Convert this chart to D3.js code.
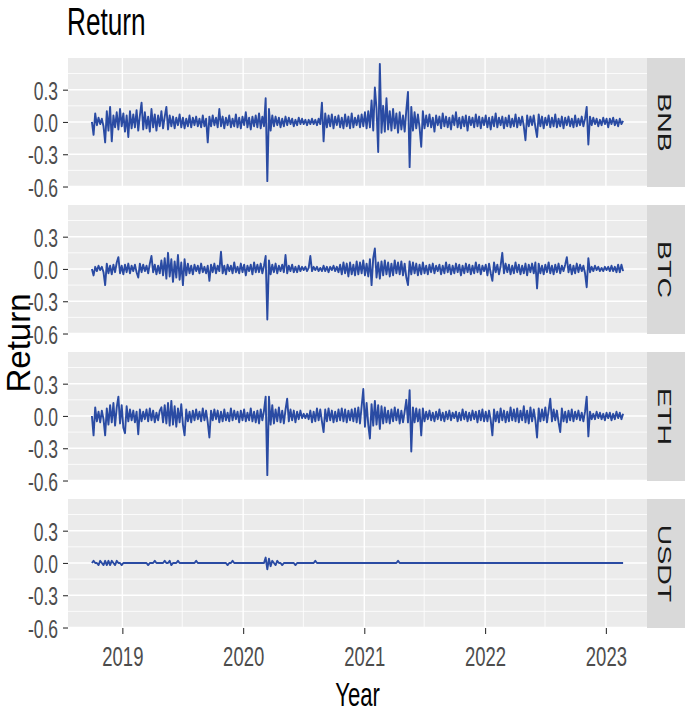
<!DOCTYPE html>
<html>
<head>
<meta charset="utf-8">
<script src="https://cdn.jsdelivr.net/npm/d3@7"></script>
<style>
body { margin: 0; background: #fff; }
#viz { width: 685px; height: 715px; }
text { font-family: "Liberation Sans", Arial, sans-serif; }
</style>
</head>
<body>
<div id="viz"></div>
<script>
var startDate = new Date(2018, 9, 1);
var stepDays = 5;
var coins = ['BNB', 'BTC', 'ETH', 'USDT'];
var yearTicks = [2019, 2020, 2021, 2022, 2023];
var halfYears = [2019, 2020, 2021, 2022];
var returnTicks = [-0.6, -0.3, 0.0, 0.3];
var returnMinor = [-0.45, -0.15, 0.15, 0.45];

// returns in percent, one reading every 5 days
var bnbPct = [
    0, -12, 8, -3, 4, -2, 3, -4, -19, 10,
    -8, 14, -18, 6, -5, 9, -7, 12, -4, 8,
    -9, 6, -14, 10, -6, 7, -5, 11, -8, 6,
    18, -7, 9, -6, 5, -9, 12, -5, 7, -8,
    6, -4, 10, -6, 5, 14, -7, 6, -4, 5,
    -6, 4, -3, 7, -5, 4, -6, 3, -4, 6,
    -5, 4, -3, 5, -4, 3, -5, 6, -4, 3,
    -19, 5, -4, 6, -3, 4, -5, 12, -4, 5,
    -6, 4, -3, 6, -5, 3, -4, 7, -5, 4,
    -6, 5, -3, 9, -5, 4, -7, 5, -4, 6,
    -5, 8, -6, 5, -4, 22, -55, 12, -8, 6,
    -4, 5, -3, 4, -5, 3, -4, 5, -3, 4,
    -2, 3, -4, 2, -3, 4, -2, 3, -2, 2,
    -3, 2, -2, 3, -2, 2, -3, 3, -2, 18,
    -18, 8, -5, 6, -4, 7, -6, 5, -3, 6,
    -5, 4, -6, 7, -4, 5, -6, 8, -5, 4,
    -3, 6, -5, 7, -4, 9, -6, 10, -5, 20,
    -8, 32, 12, -28, 54, -10, 15, -9, 22, -7,
    10, -8, 12, -6, 8, -10, 9, -7, 6, -9,
    11, 28, -42, 14, -8, 9, -6, 7, -5, -23,
    10, -6, 6, -4, 7, -5, 4, -9, 6, -3,
    5, -6, 8, -4, 5, -5, 4, -7, 6, -3,
    9, -5, 4, -6, 5, -4, 6, -8, 5, -3,
    4, -5, 7, -4, 5, -6, 4, -3, 6, -5,
    4, -7, 5, -4, 8, -5, 4, -3, 5, -6,
    4, -4, 6, -5, 3, -4, 7, -5, 4, -3,
    5, -4, -17, 6, -4, 5, -3, 6, -5, -14,
    7, -4, 5, -6, 4, -3, 6, -5, 4, -4,
    7, -5, 3, -4, 5, -6, 4, -3, 5, -4,
    3, -5, 6, -4, 3, -3, 5, -4, 3, 14,
    -21, 5, -3, 4, -2, 3, -4, 2, -3, 4,
    -2, 3, -5, 3, -2, 4, -3, 2, -4, 3,
    -2, 1
];
var btcPct = [
    0, -6, 2, -2, 3, -1, 2, -3, -15, 5,
    -4, 3, -5, 4, -3, 6, 11, -4, 3, -5,
    4, -3, 5, -4, 3, -2, 4, -3, -8, 5,
    -3, 4, -2, 3, -4, 5, 12, -3, 4, -5,
    3, -4, 8, -6, 10, -9, 15, -7, 9, -12,
    7, -8, 13, -10, 6, -15, 9, -6, 5, -4,
    3, -5, 4, -2, 3, -4, 5, -3, 2, -4,
    3, -11, 4, -3, 5, -4, 3, -2, 16, -4,
    3, -5, 4, -2, 3, -4, 6, -3, 2, -4,
    5, -3, 4, -6, 3, -2, 4, -5, 6, -3,
    4, -3, 5, -4, 3, 12, -47, 8, -5, 4,
    -3, 5, -4, 3, -2, 4, -3, 13, -4, 3,
    -2, 4, -3, 2, -3, 3, -2, 2, -1, 2,
    -2, 1, 12, -2, 2, -1, 2, -2, 1, -2,
    3, -2, 2, -3, 2, -1, 3, -2, 2, -3,
    4, -5, 6, -4, 5, -7, 6, -5, 4, -6,
    7, -5, 6, -4, 8, -6, 5, -7, 9, -15,
    10, 19, -8, 6, -9, 7, -6, 8, -5, 6,
    -7, 5, -6, 8, -4, 6, -5, 7, -6, 5,
    -8, -15, 7, -5, 6, -4, 5, -6, 4, -5,
    6, -4, 3, -5, 4, -3, 5, -4, 3, -2,
    4, -5, 3, -4, 6, -3, 4, -5, 3, -4,
    5, -3, 4, -6, 3, -4, 5, -3, 4, -5,
    3, -4, 6, -3, 4, -5, 3, -2, 4, -6,
    5, -4, -11, 6, -3, 4, -5, 3, 15, -4,
    5, -3, 4, -5, 3, -4, 6, -3, 4, -5,
    3, -4, 5, -6, 4, -3, 5, -4, 6, -18,
    5, -4, 3, -5, 4, -3, 6, -4, 3, -5,
    4, -3, 5, -4, 3, -2, 4, 11, -3, 4,
    -5, 3, -4, 5, -3, 4, -2, 3, -4, -17,
    10, -3, 2, -2, 3, -1, 2, -2, 1, -2,
    2, -1, 2, -2, 3, -2, 2, -3, 4, -3,
    4, -2
];
var ethPct = [
    0, -18, 8, -5, 4, -6, 5, -3, -18, 7,
    -8, 10, -6, 12, -9, 8, 18, -7, 10, -11,
    -16, 9, -5, 6, -4, 5, -6, 4, -17, 6,
    -5, 4, -3, 6, -5, 7, -4, 5, -6, 3,
    -4, 5, 8, -6, 10, -7, 12, -9, 14, -8,
    9, -10, 7, -6, 11, -8, -18, 6, -5, 4,
    -6, 5, -4, 6, -3, 4, -5, 7, -4, 5,
    -6, -20, 5, -4, 6, -3, 5, -6, 4, -5,
    6, -4, 3, -5, 7, -4, 5, -3, 4, -6,
    5, -4, 6, -5, 3, -4, 7, -5, 4, -6,
    5, -7, 6, -4, 5, 18, -55, 18, -8, 10,
    -7, 6, -5, 8, -6, 5, -7, 6, 16, -5,
    6, -4, 5, -6, 4, -3, 5, -2, 2, -2,
    2, -3, 5, -6, 4, -5, 7, -4, 6, -5,
    -15, 6, -5, 7, -4, 5, -6, 4, -5, 6,
    -4, 7, -5, 6, -6, 5, -4, 6, -5, 7,
    -6, 8, -7, 9, 25, -10, 12, -8, -21, 11,
    -9, 14, -8, 10, -12, 9, -7, 8, -6, 5,
    -7, 6, -5, 8, -4, 6, -7, 5, -6, 4,
    15, -6, 24, -33, 8, -6, 7, -5, 6, -18,
    7, -5, 4, -3, 5, -4, 3, -5, 4, -3,
    6, -4, 3, -5, 4, -3, 5, -4, 3, -2,
    4, -5, 3, -4, 6, -3, 4, -5, 3, -4,
    5, -3, 4, -6, 5, -4, 6, -5, 4, -5,
    5, -4, -18, 6, -5, 4, -6, 7, -4, 5,
    -6, 4, -5, 8, -4, 6, -5, 7, -6, 5,
    -4, 9, -6, 5, -7, 8, -5, 6, -4, -20,
    7, -5, 6, -4, 8, -6, 5, 16, -5, 6,
    -4, 5, -6, -15, 7, -5, 4, -6, 5, -4,
    6, -5, 4, -3, 5, -4, 3, -5, 4, 18,
    -19, 4, -3, 2, -3, 4, -2, 3, -3, 2,
    -4, 3, -2, 3, -4, 2, -3, 4, -2, 3,
    -3, 2
];
var usdtPct = [
    0, 2, 0, 0, -2, 2, 0, -2, 2, -2,
    2, -2, 2, 0, -2, 2, 0, 0, -2, 0,
    0, 0, 0, 0, 0, 0, 0, 0, 0, 0,
    0, 0, 0, 0, -2, 0, 0, 0, 2, 0,
    0, 0, 0, 0, 2, 0, 0, 2, -2, 0,
    0, 0, 2, 0, 0, 0, 0, 0, 0, 0,
    0, 0, 0, 2, 0, 0, 0, 0, 0, 0,
    0, 0, 0, 0, 0, 0, 0, 0, 0, 0,
    0, 0, -2, 0, 0, 2, 0, 0, 0, 0,
    0, 0, 0, 0, 0, 0, 0, 0, 0, 0,
    0, 0, 0, 0, 0, 5, -6, 4, -3, 2,
    0, -2, 2, 0, 0, -2, 0, 0, 0, 0,
    0, 0, 0, -2, 0, 0, 0, 0, 0, 0,
    0, 0, 0, 0, 0, 2, 0, 0, 0, 0,
    0, 0, 0, 0, 0, 0, 0, 0, 0, 0,
    0, 0, 0, 0, 0, 0, 0, 0, 0, 0,
    0, 0, 0, 0, 0, 0, 0, 0, 0, 0,
    0, 0, 0, 0, 0, 0, 0, 0, 0, 0,
    0, 0, 0, 0, 0, 2, 0, 0, 0, 0,
    0, 0, 0, 0, 0, 0, 0, 0, 0, 0,
    0, 0, 0, 0, 0, 0, 0, 0, 0, 0,
    0, 0, 0, 0, 0, 0, 0, 0, 0, 0,
    0, 0, 0, 0, 0, 0, 0, 0, 0, 0,
    0, 0, 0, 0, 0, 0, 0, 0, 0, 0,
    0, 0, 0, 0, 0, 0, 0, 0, 0, 0,
    0, 0, 0, 0, 0, 0, 0, 0, 0, 0,
    0, 0, 0, 0, 0, 0, 0, 0, 0, 0,
    0, 0, 0, 0, 0, 0, 0, 0, 0, 0,
    0, 0, 0, 0, 0, 0, 0, 0, 0, 0,
    0, 0, 0, 0, 0, 0, 0, 0, 0, 0,
    0, 0, 0, 0, 0, 0, 0, 0, 0, 0,
    0, 0, 0, 0, 0, 0, 0, 0, 0, 0,
    0, 0
];

var width = 685, height = 715;
var panelLeft = 68, panelRight = 647, stripRight = 685;
var panelTop = 58, panelH = 129, panelStep = 147;
// the picture is squeezed sideways, so most text is too
var squeeze = 0.66;

var percents = [bnbPct, btcPct, ethPct, usdtPct];
var series = coins.map(function (c, k) {
    return percents[k].map(function (v, i) {
        return { date: d3.timeDay.offset(startDate, i * stepDays), value: v / 100 };
    });
});
var allPoints = d3.merge(series);

var dateExtent = d3.extent(allPoints, function (d) { return d.date; });
var datePad = (dateExtent[1] - dateExtent[0]) * 0.045;
var xScale = d3.scaleTime()
    .domain([new Date(+dateExtent[0] - datePad), new Date(+dateExtent[1] + datePad)])
    .range([panelLeft, panelRight]);

var valExtent = d3.extent(allPoints, function (d) { return d.value; });
var valPad = (valExtent[1] - valExtent[0]) * 0.05;

var svg = d3.select('#viz')
    .append('svg')
    .attr('width', width)
    .attr('height', height);

function addText(x, y, str, size, opts) {
    opts = opts || {};
    var sx = opts.squeeze === undefined ? squeeze : opts.squeeze;
    var t = 'translate(' + x + ',' + y + ') scale(' + sx + ',1)';
    if (opts.rotate) t += ' rotate(' + opts.rotate + ')';
    return svg.append('text')
        .attr('transform', t)
        .attr('text-anchor', opts.anchor || 'start')
        .attr('dy', opts.dy || 0)
        .attr('font-size', size)
        .attr('fill', opts.fill || '#000')
        .text(str);
}

var line = d3.line()
    .x(function (d) { return xScale(d.date); });

coins.forEach(function (coin, k) {
    var top = panelTop + k * panelStep;
    var yScale = d3.scaleLinear()
        .domain([valExtent[0] - valPad, valExtent[1] + valPad])
        .range([top + panelH, top]);

    svg.append('rect')
        .attr('x', panelLeft).attr('y', top)
        .attr('width', panelRight - panelLeft).attr('height', panelH)
        .attr('fill', '#ebebeb');

    var grid = svg.append('g').attr('stroke', '#fff');
    grid.selectAll('line.hmin').data(returnMinor).enter().append('line')
        .attr('x1', panelLeft).attr('x2', panelRight)
        .attr('y1', function (d) { return yScale(d); })
        .attr('y2', function (d) { return yScale(d); })
        .attr('stroke-width', 0.8);
    grid.selectAll('line.vmin').data(halfYears).enter().append('line')
        .attr('x1', function (d) { return xScale(new Date(d, 6, 1)); })
        .attr('x2', function (d) { return xScale(new Date(d, 6, 1)); })
        .attr('y1', top).attr('y2', top + panelH)
        .attr('stroke-width', 0.8);
    grid.selectAll('line.hmaj').data(returnTicks).enter().append('line')
        .attr('x1', panelLeft).attr('x2', panelRight)
        .attr('y1', function (d) { return yScale(d); })
        .attr('y2', function (d) { return yScale(d); })
        .attr('stroke-width', 1.4);
    grid.selectAll('line.vmaj').data(yearTicks).enter().append('line')
        .attr('x1', function (d) { return xScale(new Date(d, 0, 1)); })
        .attr('x2', function (d) { return xScale(new Date(d, 0, 1)); })
        .attr('y1', top).attr('y2', top + panelH)
        .attr('stroke-width', 1.4);

    line.y(function (d) { return yScale(d.value); });
    svg.append('path')
        .datum(series[k])
        .attr('d', line)
        .attr('fill', 'none')
        .attr('stroke', '#2a4ba3')
        .attr('stroke-width', 1.9)
        .attr('stroke-linejoin', 'round');

    // strip on the right
    svg.append('rect')
        .attr('x', panelRight).attr('y', top)
        .attr('width', stripRight - panelRight).attr('height', panelH)
        .attr('fill', '#d9d9d9');
    addText(665, top + panelH / 2, coin, 28.5, { rotate: 90, anchor: 'middle', dy: '0.35em', fill: '#1a1a1a' });

    // y axis
    var yAxis = svg.append('g')
        .attr('transform', 'translate(' + panelLeft + ',0)')
        .call(d3.axisLeft(yScale)
            .tickValues(returnTicks)
            .tickSize(5)
            .tickPadding(5)
            .tickFormat(function (d) { return d.toFixed(1); }));
    yAxis.select('.domain').remove();
    yAxis.selectAll('line').attr('stroke', '#333').attr('stroke-width', 1.1);
    yAxis.selectAll('text')
        .attr('font-family', '"Liberation Sans", Arial, sans-serif')
        .attr('font-size', 26.5)
        .attr('fill', '#4d4d4d')
        .attr('dy', '0.36em')
        .attr('x', -10 / squeeze)
        .attr('transform', 'scale(' + squeeze + ',1)');

    if (k === coins.length - 1) {
        var xAxis = svg.append('g')
            .attr('transform', 'translate(0,' + (top + panelH) + ')')
            .call(d3.axisBottom(xScale)
                .tickValues(yearTicks.map(function (y) { return new Date(y, 0, 1); }))
                .tickSize(6)
                .tickPadding(5)
                .tickFormat(d3.timeFormat('%Y')));
        xAxis.select('.domain').remove();
        xAxis.selectAll('line').attr('stroke', '#333').attr('stroke-width', 1.1);
        xAxis.selectAll('text')
            .attr('font-family', '"Liberation Sans", Arial, sans-serif')
            .attr('font-size', 28)
            .attr('fill', '#4d4d4d')
            .attr('y', 18)
            .attr('dy', '0.71em')
            .attr('transform', 'scale(' + squeeze + ',1)');
    }
});

addText(67, 35, 'Return', 38.5, { squeeze: 0.68 });
addText((panelLeft + panelRight) / 2, 706, 'Year', 33.5, { anchor: 'middle' });
addText(30, panelTop + (3 * panelStep + panelH) / 2, 'Return', 33, { rotate: -90, anchor: 'middle', squeeze: 1 });
</script>
</body>
</html>
